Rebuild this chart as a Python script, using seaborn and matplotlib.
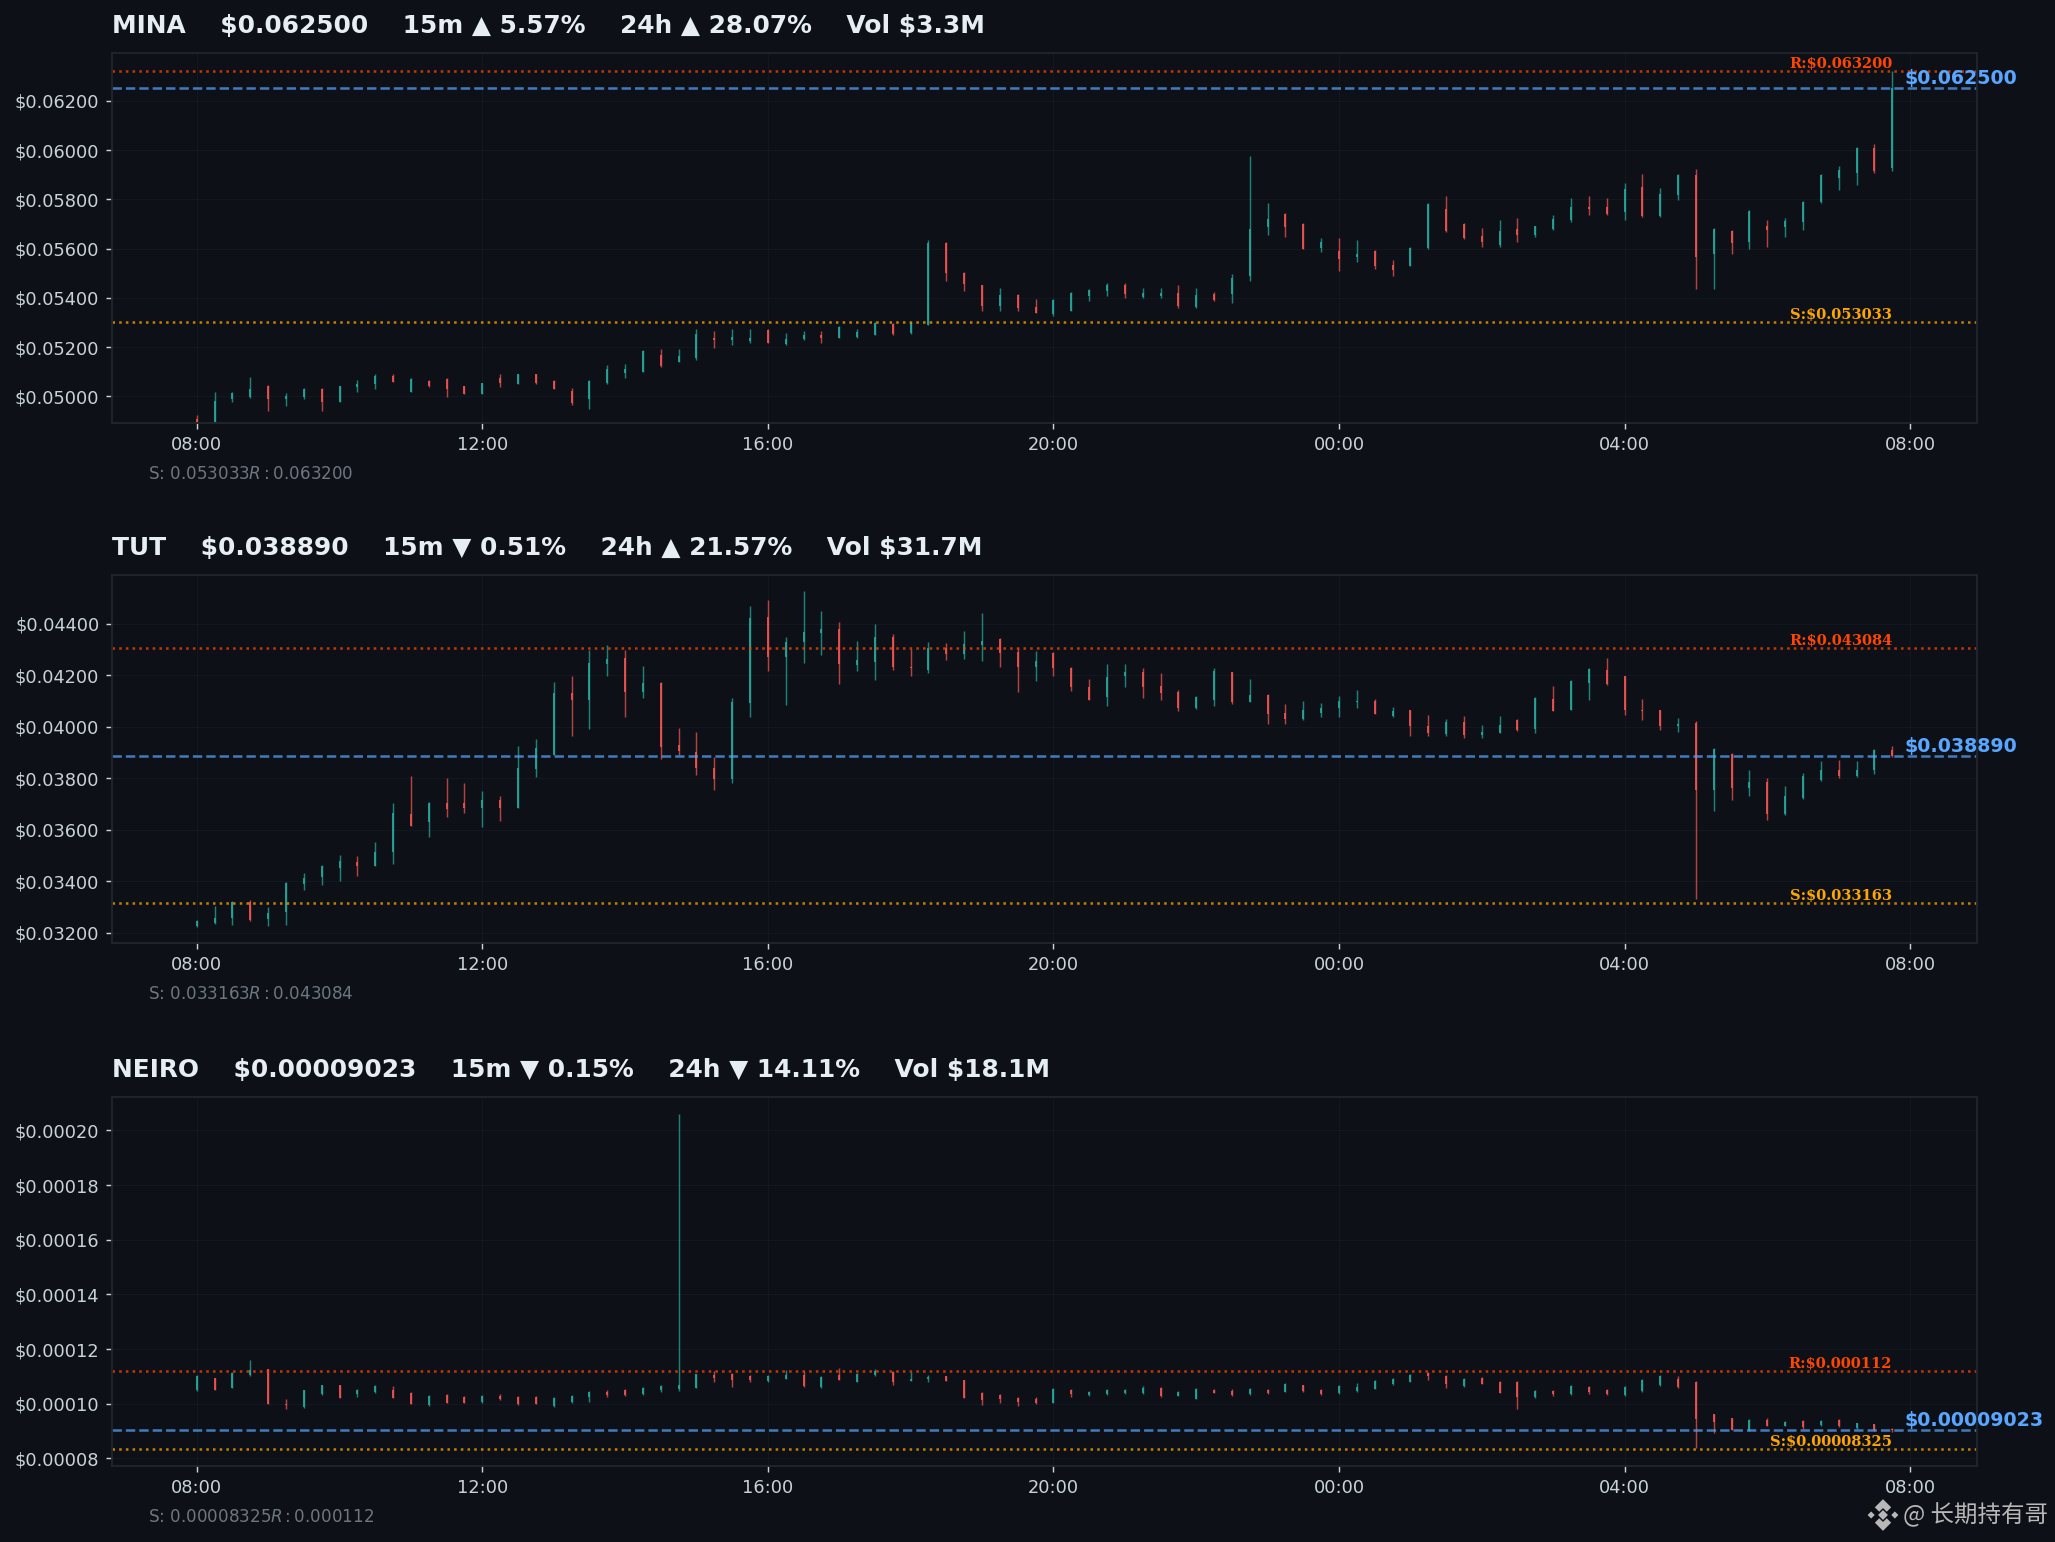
import numpy as np
import pandas as pd
import seaborn as sns
import matplotlib
matplotlib.use("Agg")
import matplotlib.pyplot as plt
import matplotlib.dates as mdates

# 15m candles, values
mina_open = [4910,4895,4990,4997,5042,4988,4997,5030,4978,5038,5049,5081,5018,5062,5069,5041,5008,5076,5052,5089,5062,5020,4988,5056,5095,5099,5167,5138,5157,5239,5228,5225,5268,5214,5231,5251,5236,5241,5250,5293,5258,5289,5621,5499,5451,5366,5411,5363,5335,5346,5407,5427,5451,5404,5408,5420,5363,5417,5417,5488,5689,5740,5700,5601,5591,5567,5591,5533,5529,5601,5761,5700,5651,5614,5679,5655,5678,5716,5770,5770,5750,5852,5732,5818,5899,5578,5672,5628,5692,5686,5709,5791,5886,5906,6007,5929]
mina_high = [4925,5016,5016,5077,5045,5015,5035,5035,5043,5065,5092,5092,5073,5065,5076,5043,5056,5092,5092,5092,5065,5035,5065,5126,5133,5187,5194,5194,5275,5264,5275,5275,5275,5258,5264,5264,5285,5275,5302,5296,5302,5635,5625,5503,5454,5442,5414,5395,5395,5422,5434,5462,5462,5442,5442,5454,5442,5422,5495,5976,5784,5743,5702,5645,5645,5635,5594,5553,5605,5784,5814,5702,5682,5716,5723,5693,5736,5804,5814,5804,5868,5903,5845,5902,5923,5682,5675,5757,5716,5723,5793,5902,5936,6013,6024,6320]
mina_low = [4892,4892,4977,4995,4940,4961,4988,4940,4977,5018,5030,5058,5018,5038,4997,5008,5008,5038,5049,5049,5028,4967,4947,5049,5076,5099,5119,5138,5146,5195,5209,5216,5216,5209,5228,5216,5236,5236,5249,5249,5255,5289,5468,5428,5347,5347,5347,5339,5327,5346,5386,5407,5400,5400,5400,5359,5359,5386,5380,5468,5655,5648,5598,5587,5510,5546,5517,5490,5529,5598,5668,5639,5607,5607,5628,5648,5675,5709,5736,5736,5716,5730,5730,5797,5437,5437,5578,5598,5607,5648,5675,5786,5838,5858,5908,5915]
mina_close = [4895,4980,5012,5031,4988,5000,5032,4977,5042,5052,5081,5058,5072,5041,5028,5008,5053,5056,5089,5054,5028,4973,5062,5113,5113,5184,5122,5163,5252,5228,5241,5239,5216,5232,5251,5236,5282,5262,5298,5255,5296,5621,5499,5458,5366,5411,5357,5339,5393,5420,5431,5451,5415,5420,5418,5366,5411,5390,5479,5679,5720,5686,5598,5625,5556,5580,5529,5515,5603,5781,5673,5641,5628,5673,5655,5692,5720,5770,5759,5739,5842,5732,5822,5899,5567,5679,5621,5754,5675,5713,5791,5899,5919,6010,5913,6250]

tut_open = [3226,3239,3258,3320,3254,3281,3391,3417,3452,3475,3459,3513,3663,3629,3704,3704,3684,3717,3684,3837,3892,4131,4105,4245,4269,4135,4170,3931,3902,3840,3797,4092,4428,4271,4329,4364,4381,4241,4254,4348,4234,4221,4305,4282,4318,4342,4290,4231,4286,4230,4157,4118,4196,4212,4159,4137,4073,4105,4212,4095,4125,4056,4032,4056,4073,4095,4101,4041,4064,4005,3973,4021,3969,3976,4027,3991,4109,4066,4170,4221,4196,4066,4066,4004,4015,3756,3896,3762,3786,3663,3725,3795,3834,3808,3834,3909]
tut_high = [3252,3306,3323,3329,3301,3398,3433,3464,3504,3500,3554,3704,3810,3708,3801,3782,3752,3733,3927,3953,4174,4198,4299,4318,4299,4237,4174,3995,3980,3885,4112,4470,4493,4348,4528,4450,4406,4334,4400,4361,4303,4329,4325,4373,4441,4344,4308,4295,4290,4232,4187,4245,4245,4228,4209,4144,4120,4228,4215,4187,4127,4088,4101,4092,4120,4144,4108,4079,4065,4047,4031,4043,4008,4043,4031,4115,4159,4182,4228,4268,4198,4108,4066,4034,4024,3918,3898,3833,3803,3772,3821,3868,3872,3868,3915,3927]
tut_low = [3222,3236,3232,3245,3226,3230,3366,3387,3403,3420,3459,3469,3614,3571,3649,3665,3610,3636,3684,3804,3892,3965,3993,4199,4037,4114,3875,3892,3812,3756,3782,4040,4219,4086,4250,4281,4165,4219,4184,4223,4196,4211,4260,4264,4256,4231,4134,4180,4196,4141,4105,4083,4157,4114,4103,4060,4071,4083,4088,4095,4013,4013,4028,4040,4040,4075,4050,4040,3965,3965,3963,3956,3956,3976,3985,3975,4060,4065,4105,4163,4047,4028,3989,3981,3332,3675,3715,3730,3640,3659,3722,3792,3800,3804,3818,3883]
tut_close = [3245,3258,3320,3252,3278,3395,3413,3461,3478,3459,3515,3665,3616,3704,3681,3684,3717,3684,3840,3918,4131,4105,4247,4264,4137,4170,3924,3905,3840,3797,4095,4424,4271,4329,4368,4381,4245,4260,4348,4234,4228,4305,4284,4321,4334,4289,4231,4256,4228,4157,4105,4193,4212,4157,4131,4073,4118,4219,4095,4125,4051,4032,4066,4073,4099,4101,4050,4060,4002,3976,4021,3969,3980,4008,3989,4114,4062,4180,4225,4167,4066,4060,4004,4011,3756,3915,3762,3788,3663,3730,3808,3833,3808,3834,3909,3889]

neiro_open = [104.9,109.3,105.9,110.4,112.6,100.0,98.8,103.4,106.7,103.4,104.2,104.9,103.9,99.4,103.2,102.4,100.6,102.9,102.4,102.4,99.0,100.6,102.4,104.4,105.0,103.4,104.9,105.5,105.9,110.6,110.9,110.1,108.3,109.2,110.4,106.1,110.4,108.1,110.6,111.6,108.4,109.0,110.0,108.5,103.9,103.2,102.1,101.8,100.4,105.0,103.1,103.7,103.9,103.9,105.7,102.9,101.8,105.0,104.8,103.4,104.9,104.4,106.7,105.0,103.8,104.6,105.5,107.1,108.1,111.2,110.1,106.4,109.3,107.9,107.9,102.3,104.5,103.7,106.1,105.0,103.1,104.5,106.7,109.2,107.9,96.1,94.6,90.5,93.9,92.0,93.7,92.3,94.0,91.2,92.4,90.9]
neiro_high = [110.4,109.5,111.6,115.9,112.8,101.8,105.1,107.0,107.0,105.5,106.7,106.4,104.2,103.1,103.4,102.7,103.1,103.4,102.7,102.7,102.3,103.1,104.5,104.9,105.3,106.0,106.7,205.9,111.0,111.8,111.2,110.4,110.4,112.2,111.8,110.0,112.9,111.2,112.6,111.8,111.6,110.4,110.3,108.8,104.2,103.4,102.3,102.3,105.6,105.3,104.5,105.3,105.3,106.4,106.0,104.5,105.6,105.3,105.3,105.6,105.3,107.4,107.0,105.3,106.7,107.4,108.5,109.3,111.0,111.5,110.4,109.3,109.6,108.2,108.2,104.9,104.9,106.7,106.4,105.3,106.4,108.9,110.4,110.0,108.2,96.3,94.9,94.3,94.9,93.5,93.9,93.9,94.3,93.1,92.7,91.2]
neiro_low = [104.5,104.9,105.6,110.1,99.8,98.1,98.4,103.1,102.0,102.3,103.9,102.0,99.8,99.0,100.1,100.1,100.1,101.2,99.4,99.8,98.7,100.1,100.5,102.3,102.7,103.1,104.2,104.5,105.6,107.8,106.0,107.8,107.8,108.9,106.0,105.6,108.5,107.8,110.1,106.7,108.2,107.8,108.2,102.0,99.4,100.1,99.0,99.8,100.1,102.3,102.7,103.1,103.4,103.4,102.3,102.7,101.6,103.8,102.7,103.1,103.4,104.2,104.2,103.1,103.4,104.2,105.3,106.7,107.8,108.5,105.6,106.0,107.1,103.8,98.1,102.0,102.7,103.1,103.4,103.1,102.7,104.2,106.4,105.6,83.7,89.3,90.3,90.1,91.7,91.7,90.9,92.0,91.5,90.9,90.0,89.8]
neiro_close = [110.1,105.1,111.4,112.2,100.0,99.5,104.9,106.7,102.2,104.9,106.5,102.2,100.0,102.8,100.4,100.4,102.8,101.6,99.8,100.0,102.1,102.7,104.2,103.1,103.1,105.7,106.5,107.0,110.7,109.5,108.5,108.5,110.1,110.4,106.4,109.8,108.8,111.0,111.8,108.1,109.2,109.6,108.4,102.2,101.2,101.8,100.6,100.3,105.4,103.7,104.3,104.9,104.9,105.9,102.7,104.3,105.4,104.0,103.3,105.3,103.9,107.2,104.6,103.4,106.5,106.1,108.3,108.9,110.6,110.0,107.1,108.9,107.3,104.0,102.4,104.6,103.7,106.5,104.3,103.4,106.1,108.7,110.1,106.1,94.5,93.3,90.5,94.0,92.0,93.3,91.5,93.5,91.8,92.8,90.2,90.23]

headers = [
    "MINA    $0.062500    15m ▲ 5.57%    24h ▲ 28.07%    Vol $3.3M",
    "TUT    $0.038890    15m ▼ 0.51%    24h ▲ 21.57%    Vol $31.7M",
    "NEIRO    $0.00009023    15m ▼ 0.15%    24h ▼ 14.11%    Vol $18.1M",
]
price_labels = ["$0.062500", "$0.038890", "$0.00009023"]
last_prices = [0.0625, 0.03889, 0.00009023]
supports = [0.053033, 0.033163, 0.00008325]
resistances = [0.0632, 0.043084, 0.000112]
support_labels = ["S:$0.053033", "S:$0.033163", "S:$0.00008325"]
resist_labels = ["R:$0.063200", "R:$0.043084", "R:$0.000112"]
captions = [
    r"S: $0.053033 R: 0.063200$",
    r"S: $0.033163 R: 0.043084$",
    r"S: $0.00008325 R: 0.000112$",
]
y_ticks = [
    [0.05, 0.052, 0.054, 0.056, 0.058, 0.06, 0.062],
    [0.032, 0.034, 0.036, 0.038, 0.04, 0.042, 0.044],
    [0.00008, 0.0001, 0.00012, 0.00014, 0.00016, 0.00018, 0.0002],
]
y_limits = [(0.04892, 0.06394), (0.03161, 0.0459), (0.0000772, 0.0002122)]
units = [1e-5, 1e-5, 1e-6]
series = [
    (mina_open, mina_high, mina_low, mina_close),
    (tut_open, tut_high, tut_low, tut_close),
    (neiro_open, neiro_high, neiro_low, neiro_close),
]

BG = "#0d1117"
UP = "#26a69a"
DOWN = "#ef5350"
BORDER = "#21262d"
W, H = 2055, 1542
DPI = 130

sns.set_theme(style="darkgrid", rc={
    "figure.facecolor": BG,
    "axes.facecolor": BG,
    "axes.edgecolor": BORDER,
    "axes.linewidth": 1.0,
    "grid.color": "#131820",
    "grid.linewidth": 0.6,
    "lines.solid_capstyle": "butt",
    "xtick.bottom": True,
    "ytick.left": True,
    "xtick.color": "#c9d1d9",
    "ytick.color": "#c9d1d9",
    "xtick.major.size": 3.5,
    "ytick.major.size": 3.5,
    "xtick.major.width": 0.8,
    "ytick.major.width": 0.8,
    "mathtext.fontset": "dejavusans",
})
plt.rcParams["font.family"] = ["DejaVu Sans", "Noto Sans CJK SC"]

times = pd.date_range("2025-03-10 08:00", periods=96, freq="15min")
fig = plt.figure(figsize=(W / DPI, H / DPI), dpi=DPI)
panel_tops = [53, 575, 1097]
panel_h = [370, 368, 369]


def long_table(lo, hi, is_up):
    # two rows per candle, seaborn draws one vertical segment per unit
    return pd.DataFrame({
        "time": np.tile(times, 2),
        "price": np.concatenate([lo, hi]),
        "candle": np.tile(np.arange(len(times)), 2),
        "side": np.tile(np.where(is_up, "up", "down"), 2),
    })


for i in range(3):
    ax = fig.add_axes([112 / W, 1 - (panel_tops[i] + panel_h[i]) / H, 1865 / W, panel_h[i] / H])
    op, hi, lo, cl = [np.array(a) * units[i] for a in series[i]]
    is_up = cl >= op
    palette = {"up": UP, "down": DOWN}

    wicks = long_table(lo, hi, is_up)
    bodies = long_table(np.minimum(op, cl), np.maximum(op, cl), is_up)
    sns.lineplot(data=wicks, x="time", y="price", hue="side", units="candle", estimator=None,
                 palette=palette, linewidth=0.8, alpha=0.75, sort=False, legend=False, ax=ax)
    sns.lineplot(data=bodies, x="time", y="price", hue="side", units="candle", estimator=None,
                 palette=palette, linewidth=1.0, sort=False, legend=False, ax=ax)

    ax.axhline(resistances[i], color="#ff4500", linestyle=":", linewidth=1.4, alpha=0.75)
    ax.axhline(supports[i], color="#ffa500", linestyle=":", linewidth=1.4, alpha=0.75)
    ax.axhline(last_prices[i], color="#58a6ff", linestyle="--", linewidth=1.4, alpha=0.7)

    ax.set_ylim(*y_limits[i])
    ax.set_yticks(y_ticks[i])
    ax.set_yticklabels([f"${v:.5f}" for v in y_ticks[i]], fontsize=9.8)
    ax.xaxis.set_major_locator(mdates.HourLocator(byhour=range(0, 24, 4)))
    ax.xaxis.set_major_formatter(mdates.DateFormatter("%H:%M"))
    ax.tick_params(axis="x", labelsize=9.8, pad=3.5)
    ax.tick_params(axis="y", pad=3.5)
    ax.set_xlabel("")
    ax.set_ylabel("")
    for s in ax.spines.values():
        s.set_visible(True)
    ax.set_axisbelow(True)

    ax.set_title(headers[i], loc="left", color="#e6edf3", fontsize=13.8, fontweight="bold", pad=11, parse_math=False)
    ax.annotate(resist_labels[i], (times[-1], resistances[i]), textcoords="offset points", xytext=(0, 0),
                ha="right", va="bottom", color="#ff4500", fontsize=8.1, fontweight="bold", family="DejaVu Serif")
    ax.annotate(support_labels[i], (times[-1], supports[i]), textcoords="offset points", xytext=(0, 0),
                ha="right", va="bottom", color="#ffa500", fontsize=8.1, fontweight="bold", family="DejaVu Serif")
    ax.annotate(price_labels[i], (times[-1], last_prices[i]), textcoords="offset points", xytext=(7, 0),
                ha="left", va="bottom", color="#58a6ff", fontsize=10.5, fontweight="bold", annotation_clip=False)
    ax.text(0.0195, -0.138, captions[i], transform=ax.transAxes, color="#6e7681", fontsize=9.3, va="center")

# watermark, bottom right
logo = fig.add_axes([1867 / W, 1 - 1531 / H, 32 / W, 32 / H])
logo.axis("off")
logo.set_xlim(-1, 1)
logo.set_ylim(-1, 1)
sns.scatterplot(x=[0, 0, -0.74, 0.74, 0], y=[0.48, -0.48, 0, 0, 0], marker="D", s=[52, 52, 13, 13, 22],
                color="#b8b8b8", edgecolor=BG, linewidth=0.8, legend=False, ax=logo)
fig.text(1903 / W, 1 - 1515 / H, "@ 长期持有哥", color="#b8b8b8", fontsize=13, va="center", ha="left",
         family=["Noto Sans CJK SC", "DejaVu Sans"])

fig.savefig("out.png", dpi=DPI, facecolor=BG)
